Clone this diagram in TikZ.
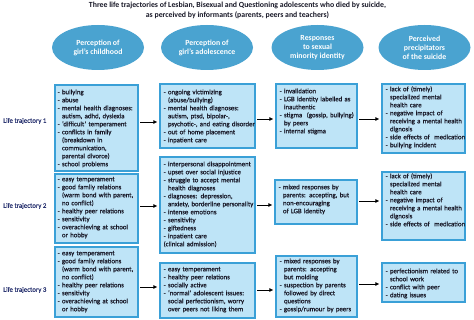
\documentclass[tikz,border=0pt]{standalone}
\usepackage{fontspec}
\setmainfont{Carlito}
\newfontfamily\boxfont[FakeBold=0.6]{Carlito}
\usetikzlibrary{shapes.geometric,arrows.meta}
\definecolor{ellfill}{RGB}{74,163,208}
\definecolor{boxfill}{RGB}{190,228,247}
\definecolor{boxline}{RGB}{58,160,215}
\definecolor{txtcol}{RGB}{25,25,40}
\definecolor{lblcol}{RGB}{45,55,115}
\newcommand\ind{\hphantom{- }}
\newcommand\fl{\rule{0pt}{5pt}}
\begin{document}
\begin{tikzpicture}[x=1pt,y=-1pt,
  ell/.style={ellipse, fill=ellfill, draw=none, minimum width=92pt, minimum height=45pt, inner sep=0pt, text=white, font=\fontsize{7.8}{9}\selectfont\bfseries, align=center},
  box/.style={rectangle, draw=boxline, fill=boxfill, line width=1.1pt, inner sep=0pt},
  txt/.style={anchor=north west, inner sep=0pt, align=left, text=txtcol, font=\boxfont\fontsize{6.8}{8}\selectfont},
  lbl/.style={anchor=west, inner sep=0pt, text=lblcol, font=\boxfont\fontsize{6.8}{8}\selectfont},
  ttl/.style={inner sep=0pt, font=\fontsize{7.8}{10}\selectfont\bfseries, align=center, text=txtcol},
  arr/.style={-{Latex[length=4pt,width=4pt]}, line width=0.9pt, black, shorten <=1.5pt, shorten >=2pt},
]
\useasboundingbox (0,0) rectangle (474,320);
\fill[white] (0,0) rectangle (474,320);

% title
\node[ttl] (title) at (237.5,10.5) {Three life trajectories of Lesbian, Bisexual and Questioning adolescents who died by suicide,\\as perceived by informants (parents, peers and teachers)};

% ellipses
\node[ell] (e1) at (98,47.5) {Perception of\\girl’s childhood};
\node[ell] (e2) at (207,47.5) {Perception of\\girl’s adolescence};
\node[ell] (e3) at (317.5,47.5) {Responses\\to sexual\\minority identity};
\node[ell] (e4) at (424.5,47.5) {Perceived\\precipitators\\of the suicide};

% labels
\node[lbl] (l1) at (3,121) {Life trajectory 1};
\node[lbl] (l2) at (3,206) {Life trajectory 2};
\node[lbl] (l3) at (3,290) {Life trajectory 3};

% column 1
\node[box, minimum width=83pt, minimum height=86pt] (a1) at (96.5,128) {};
\node[txt, text width=80pt] (ta1) at ([xshift=3pt,yshift=-4.6pt]a1.north west) {\fl- bullying\\
- abuse\\
- mental health diagnoses:\\
\ind autism, adhd, dyslexia\\
- ‘difficult’ temperament\\
- conflicts in family\\
\ind (breakdown in\\
\ind communication,\\
\ind parental divorce)\\
- school problems};

\node[box, minimum width=83pt, minimum height=69pt] (a2) at (96.5,208.5) {};
\node[txt, text width=80pt] (ta2) at ([xshift=3pt,yshift=-2.6pt]a2.north west) {\fl- easy temperament\\
- good family relations\\
\ind (warm bond with parent,\\
\ind no conflict)\\
- healthy peer relations\\
- sensitivity\\
- overachieving at school\\
\ind or hobby};

\node[box, minimum width=83pt, minimum height=70pt] (a3) at (96.5,282) {};
\node[txt, text width=80pt] (ta3) at ([xshift=3pt,yshift=-3.6pt]a3.north west) {\fl- easy temperament\\
- good family relations\\
\ind (warm bond with parent,\\
\ind no conflict)\\
- healthy peer relations\\
- sensitivity\\
- overachieving at school\\
\ind or hobby};

% column 2
\node[box, minimum width=95pt, minimum height=64pt] (b1) at (207.5,116) {};
\node[txt, text width=92pt] (tb1) at ([xshift=4pt,yshift=-5.6pt]b1.north west) {\fl- ongoing victimizing\\
\ind (abuse/bullying)\\
- mental health diagnoses:\\
\ind autism, ptsd, bipolar-,\\
\ind psychotic-, and eating disorder\\
- out of home placement\\
- inpatient care};

\node[box, minimum width=95pt, minimum height=96pt] (b2) at (207.5,205) {};
\node[txt, text width=92pt] (tb2) at ([xshift=4pt,yshift=-4.6pt]b2.north west) {\fl- interpersonal disappointment\\
- upset over social injustice\\
- struggle to accept mental\\
\ind health diagnoses\\
- diagnoses: depression,\\
\ind anxiety, borderline personality\\
- intense emotions\\
- sensitivity\\
- giftedness\\
- inpatient care\\
(clinical admission)};

\node[box, minimum width=95pt, minimum height=55pt] (b3) at (207.5,290.5) {};
\node[txt, text width=92pt] (tb3) at ([xshift=4pt,yshift=-3.6pt]b3.north west) {\fl- easy temperament\\
- healthy peer relations\\
- socially active\\
- ‘normal’ adolescent issues:\\
\ind social perfectionism, worry\\
\ind over peers not liking them};

% column 3
\node[box, minimum width=81pt, minimum height=64pt] (c1) at (316.5,116) {};
\node[txt, text width=78pt] (tc1) at ([xshift=4pt,yshift=-4.6pt]c1.north west) {\fl- invalidation\\
- LGB identity labelled as\\
\ind inauthentic\\
- stigma\ \ (gossip, bullying)\\
\ind by peers\\
- internal stigma};

\node[box, minimum width=82pt, minimum height=44pt] (c2) at (316,202) {};
\node[txt, text width=79pt] (tc2) at ([xshift=4pt,yshift=-4.6pt]c2.north west) {\fl- mixed responses by\\
\ind parents: accepting, but\\
\ind non-encouraging\\
\ind of LGB identity};

\node[box, minimum width=81pt, minimum height=61pt] (c3) at (316.5,286.5) {};
\node[txt, text width=78pt] (tc3) at ([xshift=4pt,yshift=-2.6pt]c3.north west) {\fl- mixed responses by\\
\ind parents: accepting\\
\ind but molding\\
- suspection by parents\\
\ind followed by direct\\
\ind questions\\
- gossip/rumour by peers};

% column 4
\node[box, minimum width=83pt, minimum height=69pt] (d1) at (423.5,118.5) {};
\node[txt, text width=80pt] (td1) at ([xshift=4pt,yshift=-2.6pt]d1.north west) {\fl- lack of (timely)\\
\ind specialized mental\\
\ind health care\\
- negative impact of\\
\ind receiving a mental health\\
\ind dignosis\\
- side effects of\ \ medication\\
- bullying incident};

\node[box, minimum width=83pt, minimum height=68pt] (d2) at (423.5,206) {};
\node[txt, text width=80pt] (td2) at ([xshift=4pt,yshift=-1.6pt]d2.north west) {\fl- lack of (timely)\\
\ind specialized mental\\
\ind health care\\
- negative impact of\\
\ind receiving a mental health\\
\ind dignosis\\
- side effects of\ \ medication};

\node[box, minimum width=83pt, minimum height=39pt] (d3) at (423.5,282.5) {};
\node[txt, text width=80pt] (td3) at ([xshift=4pt,yshift=-5.6pt]d3.north west) {\fl- perfectionism related to\\
\ind school work\\
- conflict with peer\\
- dating issues};

% arrow rows
\coordinate (r1a) at (0,122);
\coordinate (r1b) at (0,119);
\coordinate (r1c) at (0,119);
\coordinate (r2a) at (0,206);
\coordinate (r2b) at (0,205);
\coordinate (r2c) at (0,201);
\coordinate (r3a) at (0,287);
\coordinate (r3b) at (0,290);
\coordinate (r3c) at (0,284);

\draw[arr] (a1.east |- r1a) -- (b1.west |- r1a);
\draw[arr] (b1.east |- r1b) -- (c1.west |- r1b);
\draw[arr] (c1.east |- r1c) -- (d1.west |- r1c);
\draw[arr] (a2.east |- r2a) -- (b2.west |- r2a);
\draw[arr] (b2.east |- r2b) -- (c2.west |- r2b);
\draw[arr] (c2.east |- r2c) -- (d2.west |- r2c);
\draw[arr] (a3.east |- r3a) -- (b3.west |- r3a);
\draw[arr] (b3.east |- r3b) -- (c3.west |- r3b);
\draw[arr] (c3.east |- r3c) -- (d3.west |- r3c);
\end{tikzpicture}
\end{document}
